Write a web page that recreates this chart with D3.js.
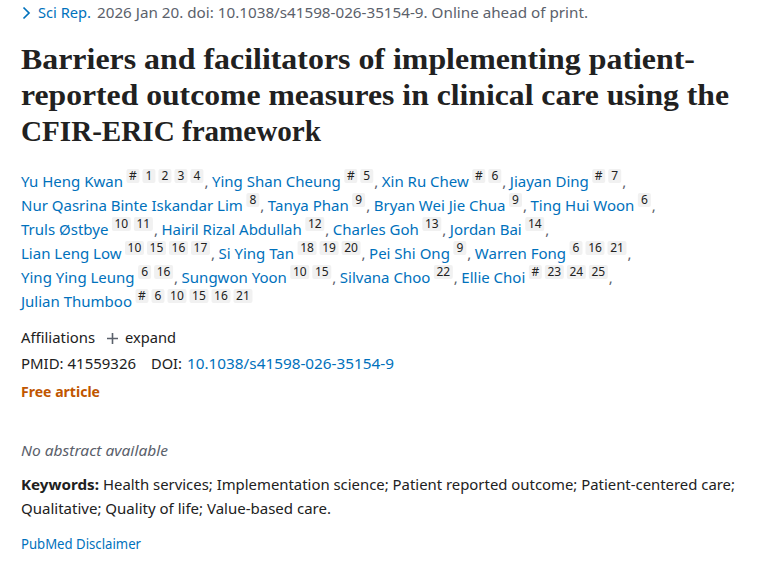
<!DOCTYPE html>
<html><head><meta charset="utf-8">
<script src="https://cdn.jsdelivr.net/npm/d3@7"></script>
<style>html,body{margin:0;padding:0;background:#fff}svg{display:block}text{white-space:pre}</style>
</head><body><div id="c"></div>
<script>
const citationSource = "Sci Rep.";
const citationRest = "2026 Jan 20. doi: 10.1038/s41598-026-35154-9. Online ahead of print.";
const titleLines = ["Barriers and facilitators of implementing patient-","reported outcome measures in clinical care using the","CFIR-ERIC framework"];
const authorNames = ["Yu Heng Kwan","Ying Shan Cheung","Xin Ru Chew","Jiayan Ding","Nur Qasrina Binte Iskandar Lim","Tanya Phan","Bryan Wei Jie Chua","Ting Hui Woon","Truls Østbye","Hairil Rizal Abdullah","Charles Goh","Jordan Bai","Lian Leng Low","Si Ying Tan","Pei Shi Ong","Warren Fong","Ying Ying Leung","Sungwon Yoon","Silvana Choo","Ellie Choi","Julian Thumboo"];
const authorNotes = [["#","1","2","3","4"],["#","5"],["#","6"],["#","7"],["8"],["9"],["9"],["6"],["10","11"],["12"],["13"],["14"],["10","15","16","17"],["18","19","20"],["9"],["6","16","21"],["6","16"],["10","15"],["22"],["#","23","24","25"],["#","6","10","15","16","21"]];
const authorLineStarts = [0,4,8,12,16,20];
const keywordsA = "Health services; Implementation science; Patient reported outcome; Patient-centered care;";
const keywordsB = "Qualitative; Quality of life; Value-based care.";

const ink="#212121", link="#0071bc", gray="#5b616b", orange="#c05600";
const sans='"Noto Sans","Open Sans",sans-serif';
const svg=d3.select("#c").append("svg").attr("width",760).attr("height",570).attr("viewBox","0 0 760 570");

function put(str,x,y,o={}){
  const t=svg.append("text").attr("x",x).attr("y",y).text(str)
    .attr("font-family",o.family||sans).attr("font-size",o.size||15)
    .attr("font-weight",o.weight||400).attr("font-style",o.style||"normal")
    .attr("fill",o.fill||ink).attr("text-anchor",o.anchor||"start");
  if(o.width){t.attr("textLength",o.width).attr("lengthAdjust","spacingAndGlyphs");}
  return t;
}
svg.append("path").attr("d","M23.5 7.5L29 13L23.5 18.5").attr("fill","none").attr("stroke",link).attr("stroke-width",1.7);
put(citationSource,38,18,{fill:link,size:14.5,width:53});
put(citationRest,97,18,{fill:gray,size:14.5,width:491});
const serif='"Liberation Serif",serif';
const titleWidths=[674,708,300];
titleLines.forEach((l,i)=>put(l,21,69+36*i,{family:serif,size:30,weight:700,fill:"#212121",width:titleWidths[i]}));
const nameK=1.0, pillH=14, rowH=24, rowY=187;
authorLineStarts.forEach((start,r)=>{
  const end=r+1<authorLineStarts.length?authorLineStarts[r+1]:authorNames.length;
  let x=21; const y=rowY+rowH*r;
  for(let i=start;i<end;i++){
    const t=put(authorNames[i],x,y,{fill:link,size:15});
    const w=t.node().getComputedTextLength()*nameK;
    x+=w+3.5;
    authorNotes[i].forEach(n=>{
      const pw=n.length>1?19:13;
      svg.append("rect").attr("x",x).attr("y",y-18).attr("width",pw).attr("height",pillH).attr("rx",2).attr("fill","#f1f1f1");
      put(n,x+pw/2,y-7,{size:12,anchor:"middle",fill:"#212121"});
      x+=pw+3;
    });
    x-=2;
    if(i<authorNames.length-1){ put(",",x,y,{fill:gray,size:15}); x+=7.5; }
  }
});
put("Affiliations",21,343,{size:15,width:74});
svg.append("path").attr("d","M107 338.5H118M112.5 333V344").attr("stroke","#5b616b").attr("stroke-width",1.6);
put("expand",125,343,{size:15,width:51});
put("PMID: 41559326",21,369,{size:15,width:115});
put("DOI:",151,369,{size:15,width:31});
put("10.1038/s41598-026-35154-9",187,369,{size:15,fill:link,width:207});
put("Free article",21,397,{size:15,weight:700,fill:orange,width:79});
put("No abstract available",21,456,{size:15,style:"italic",fill:gray,width:147});
put("Keywords:",21,489.5,{size:15,weight:700,width:78});
put(keywordsA,103,489.5,{size:15,width:632});
put(keywordsB,21,513.5,{size:15,width:310});
put("PubMed Disclaimer",21,549,{size:13.5,fill:link,width:120});
</script></body></html>
